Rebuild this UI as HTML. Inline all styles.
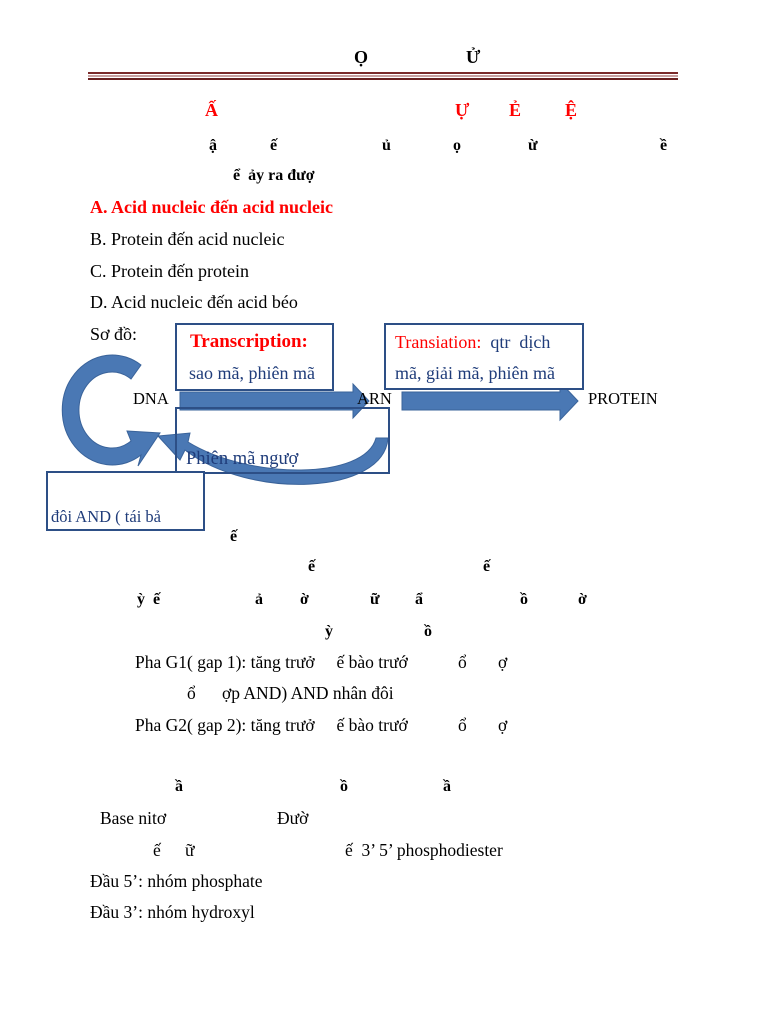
<!DOCTYPE html>
<html><head><meta charset="utf-8"><style>
body{margin:0;width:768px;height:1024px;background:#fff;position:relative;overflow:hidden;font-family:"Liberation Serif",serif;font-size:18px;color:#000}
.t{position:absolute;white-space:pre;line-height:20px}
.b{font-weight:bold}
.r{color:#f00}
.n{color:#1f3c7a}
</style></head><body>
<div class="t b" style="left:354px;top:47px;font-size:18px">Ọ</div>
<div class="t b" style="left:466px;top:47px;font-size:18px">Ử</div>
<div style="position:absolute;left:88px;top:72px;width:590px;height:2px;background:#7a2a2a"></div>
<div style="position:absolute;left:88px;top:75px;width:590px;height:2px;background:#c8a0a0"></div>
<div style="position:absolute;left:88px;top:78px;width:590px;height:2px;background:#6a2020"></div>
<div class="t b r" style="left:205px;top:100px;font-size:18px">Ấ</div>
<div class="t b r" style="left:455px;top:100px;font-size:18px">Ự</div>
<div class="t b r" style="left:509px;top:100px;font-size:18px">Ẻ</div>
<div class="t b r" style="left:565px;top:100px;font-size:18px">Ệ</div>
<div class="t b" style="left:209px;top:136px;font-size:16px">ậ</div>
<div class="t b" style="left:270px;top:136px;font-size:16px">ế</div>
<div class="t b" style="left:382px;top:136px;font-size:16px">ủ</div>
<div class="t b" style="left:453px;top:136px;font-size:16px">ọ</div>
<div class="t b" style="left:528px;top:136px;font-size:16px">ừ</div>
<div class="t b" style="left:660px;top:136px;font-size:16px">ề</div>
<div class="t b" style="left:233px;top:166px;font-size:16px">ể  ảy ra đượ</div>
<div class="t b r" style="left:90px;top:197px">A. Acid nucleic đến acid nucleic</div>
<div class="t" style="left:90px;top:229px">B. Protein đến acid nucleic</div>
<div class="t" style="left:90px;top:261px">C. Protein đến protein</div>
<div class="t" style="left:90px;top:292px">D. Acid nucleic đến acid béo</div>
<div class="t" style="left:90px;top:324px">Sơ đồ:</div>

<svg style="position:absolute;left:0;top:0" width="768" height="1024">
<g fill="#4a78b4" stroke="#3a639a" stroke-width="1">
<path d="M141,365 A50,55 0 1 0 141,455 L138,466 L160,433 L127,431 L131,441 A33,38 0 1 1 131,379 Z"/>
<path d="M180,392 L353,392 L353,384 L369,401 L353,418 L353,410 L180,410 Z"/>
<path d="M402,392 L560,392 L560,382 L578,401 L560,420 L560,410 L402,410 Z"/>
<path d="M388,438 C384,495 250,500 185,450 L180,460 L158,436 L190,433 L188,442 C250,480 365,480 376,438 Z"/>
</g>
<rect x="176" y="408" width="213" height="65" fill="none" stroke="#2d4f86" stroke-width="2"/>
<rect x="176" y="324" width="157" height="66" fill="#fff" stroke="#2d4f86" stroke-width="2"/>
<rect x="385" y="324" width="198" height="65" fill="#fff" stroke="#2d4f86" stroke-width="2"/>
<rect x="47" y="472" width="157" height="58" fill="#fff" stroke="#2d4f86" stroke-width="2"/>
</svg>
<div class="t b r" style="left:190px;top:332px;font-size:19px">Transcription:</div>
<div class="t n" style="left:189px;top:363px;font-size:18px">sao mã, phiên mã</div>
<div class="t" style="left:395px;top:332px;font-size:18px"><span class="r">Transiation:</span><span class="n">  qtr  dịch</span></div>
<div class="t n" style="left:395px;top:363px;font-size:18px">mã, giải mã, phiên mã</div>
<div class="t" style="left:133px;top:389px;font-size:16.5px">DNA</div>
<div class="t" style="left:357px;top:389px;font-size:16.5px">ARN</div>
<div class="t" style="left:588px;top:389px;font-size:16.5px">PROTEIN</div>
<div class="t n" style="left:186px;top:449px;font-size:18.5px">Phiên mã ngượ</div>
<div class="t n" style="left:51px;top:507px;font-size:16.5px">đôi AND ( tái bả</div>

<div class="t b" style="left:230px;top:527px;font-size:16px">ế</div>
<div class="t b" style="left:308px;top:557px;font-size:16px">ế</div>
<div class="t b" style="left:483px;top:557px;font-size:16px">ế</div>
<div class="t b" style="left:137px;top:590px;font-size:16px">ỳ  ế</div>
<div class="t b" style="left:255px;top:590px;font-size:16px">ả</div>
<div class="t b" style="left:300px;top:590px;font-size:16px">ờ</div>
<div class="t b" style="left:370px;top:590px;font-size:16px">ữ</div>
<div class="t b" style="left:415px;top:590px;font-size:16px">ẩ</div>
<div class="t b" style="left:520px;top:590px;font-size:16px">ồ</div>
<div class="t b" style="left:578px;top:590px;font-size:16px">ờ</div>
<div class="t b" style="left:325px;top:622px;font-size:16px">ỳ</div>
<div class="t b" style="left:424px;top:622px;font-size:16px">ồ</div>
<div class="t" style="left:135px;top:652px;font-size:17.5px">Pha G1( gap 1): tăng trưở     ế bào trướ</div>
<div class="t" style="left:458px;top:652px;font-size:17.5px">ổ</div>
<div class="t" style="left:498px;top:652px;font-size:17.5px">ợ</div>
<div class="t" style="left:187px;top:683px;font-size:17.5px">ổ      ợp AND) AND nhân đôi</div>
<div class="t" style="left:135px;top:715px;font-size:17.5px">Pha G2( gap 2): tăng trưở     ế bào trướ</div>
<div class="t" style="left:458px;top:715px;font-size:17.5px">ổ</div>
<div class="t" style="left:498px;top:715px;font-size:17.5px">ợ</div>
<div class="t b" style="left:175px;top:777px;font-size:16px">ầ</div>
<div class="t b" style="left:340px;top:777px;font-size:16px">ồ</div>
<div class="t b" style="left:443px;top:777px;font-size:16px">ầ</div>
<div class="t" style="left:100px;top:808px;font-size:17.5px">Base nitơ</div>
<div class="t" style="left:277px;top:808px;font-size:17.5px">Đườ</div>
<div class="t" style="left:153px;top:840px;font-size:17.5px">ế</div>
<div class="t" style="left:185px;top:840px;font-size:17.5px">ữ</div>
<div class="t" style="left:345px;top:840px;font-size:17.5px">ế  3’ 5’ phosphodiester</div>
<div class="t" style="left:90px;top:871px;font-size:17.5px">Đầu 5’: nhóm phosphate</div>
<div class="t" style="left:90px;top:902px;font-size:17.5px">Đầu 3’: nhóm hydroxyl</div>
</body></html>
